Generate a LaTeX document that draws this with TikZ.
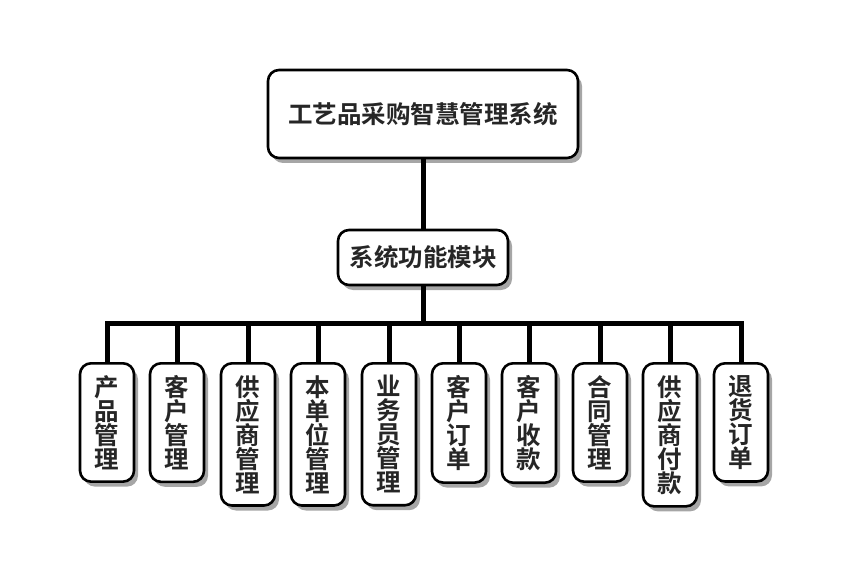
\documentclass[tikz,border=0pt]{standalone}
\usepackage{fontspec}
\usetikzlibrary{shadows,backgrounds}
\newfontfamily\cjkb{Noto Sans CJK SC Bold}

\tikzset{
  box/.style={draw=black, line width=2.6pt, rounded corners=11pt, fill=white,
    text=black!85, font=\cjkb\fontsize{24.5}{24}\selectfont,
    drop shadow={shadow xshift=4pt, shadow yshift=-5pt, fill=black, opacity=.35}},
  leaf/.style={box, anchor=north, align=center, minimum width=54pt,
    inner xsep=2pt, inner ysep=12pt},
  link/.style={line width=5pt}
}

\begin{document}
\begin{tikzpicture}[x=1pt, y=-1pt]
\useasboundingbox (0,0) rectangle (846,583);

%上の二つ
\node[box, minimum width=310pt, minimum height=88pt] (sys) at (423,114) {工艺品采购智慧管理系统};
\node[box, minimum width=170pt, minimum height=55pt, inner sep=4pt] (mod) at (423,257.5) {系统功能模块};
\coordinate (J) at (423,323);

%下の十個
\node[leaf] (a) at (107,362) {产\\品\\管\\理};
\node[leaf] (b) at (177,362) {客\\户\\管\\理};
\node[leaf] (c) at (248,362) {供\\应\\商\\管\\理};
\node[leaf] (d) at (318,362) {本\\单\\位\\管\\理};
\node[leaf] (e) at (389,362) {业\\务\\员\\管\\理};
\node[leaf] (f) at (459,362) {客\\户\\订\\单};
\node[leaf] (g) at (529,362) {客\\户\\收\\款};
\node[leaf] (h) at (600,362) {合\\同\\管\\理};
\node[leaf] (i) at (670,362) {供\\应\\商\\付\\款};
\node[leaf] (k) at (741,362) {退\\货\\订\\单};

%線（箱の下に）
\begin{scope}[on background layer]
\draw[link] (sys.south) -- (mod.north);
\draw[link] (mod.south) -- (J);
\draw[link] (J) -| (a.north);
\draw[link] (J) -| (b.north);
\draw[link] (J) -| (c.north);
\draw[link] (J) -| (d.north);
\draw[link] (J) -| (e.north);
\draw[link] (J) -| (f.north);
\draw[link] (J) -| (g.north);
\draw[link] (J) -| (h.north);
\draw[link] (J) -| (i.north);
\draw[link] (J) -| (k.north);
\end{scope}
\end{tikzpicture}
\end{document}
